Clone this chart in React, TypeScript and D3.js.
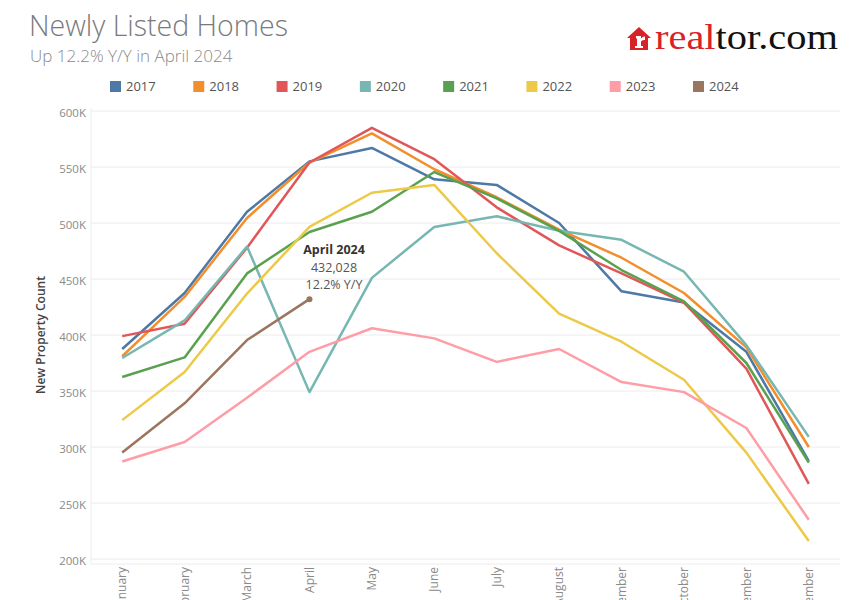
import React from 'react';
import * as d3 from 'd3';

const months = [
  'January', 'February', 'March', 'April', 'May', 'June',
  'July', 'August', 'September', 'October', 'November', 'December',
];

const years = ['2017', '2018', '2019', '2020', '2021', '2022', '2023', '2024'];

const colors = ['#4e79a7', '#f28e2b', '#e15759', '#76b7b2', '#59a14f', '#edc948', '#ff9da7', '#9c755f'];

// monthly new listings, in thousands
const listings2017 = [387.5, 437.5, 510, 555, 567, 539, 534, 500, 439, 429, 385, 287.5];
const listings2018 = [381, 434, 504.5, 554, 580, 548, 523, 494, 469, 437.5, 389, 300];
const listings2019 = [399, 410, 478, 554, 585, 557, 514, 480, 455, 429, 370, 267];
const listings2020 = [379.5, 413, 479, 349, 451, 496.5, 506, 493, 485, 456.5, 391, 309];
const listings2021 = [362.5, 380, 455, 492, 510, 545.5, 522, 493, 458, 430, 375, 286];
const listings2022 = [324, 367, 437, 496.5, 527, 534, 473, 419, 394, 360, 295, 216];
const listings2023 = [287, 304.5, 344, 385, 406, 397, 376, 387.5, 358, 349, 317, 235];
const listings2024 = [295, 339, 395.5, 432.028];

const series = [listings2017, listings2018, listings2019, listings2020, listings2021, listings2022, listings2023, listings2024];

const yTicks = [200, 250, 300, 350, 400, 450, 500, 550, 600];

const W = 849;
const H = 600;
const font = '"Open Sans", "Noto Sans", sans-serif';

export default function App() {
  const x = d3.scaleBand<string>().domain(months).range([91, 840]);
  const y = d3.scaleLinear().domain([200, 600]).range([559, 111]);
  const cx = (i: number) => (x(months[i]) as number) + x.bandwidth() / 2;

  const line = d3
    .line<number>()
    .x((_, i) => cx(i))
    .y(d => y(d));

  const legendX = d3.scalePoint<string>().domain(years).range([110, 693]);

  const last2024 = listings2024.length - 1;
  const dotX = cx(last2024);
  const dotY = y(listings2024[last2024]);

  return (
    <svg width={W} height={H} style={{ position: 'absolute', left: 0, top: 0, background: '#fff' }}>
      {/* title block */}
      <text x={29} y={36} fontFamily={font} fontWeight={300} fontSize={28.5} fill="#7a7a7a">
        Newly Listed Homes
      </text>
      <text x={30} y={62} fontFamily={font} fontWeight={300} fontSize={17} fill="#8a8a8a">
        Up 12.2% Y/Y in April 2024
      </text>

      {/* realtor.com mark */}
      <g>
        <path d="M627,38 L639,27 L651,38 L648,38 L648,50 L630,50 L630,38 Z" fill="#d92228" />
        <path d="M636,36 L641,36 L641,38.5 Q643,36 645,36.5 L645,40 Q642,39.5 641,41.5 L641,46 L643,46 L643,48 L635,48 L635,46 L637,46 L637,38.5 L636,38.5 Z" fill="#fff" />
        <text
          x={655}
          y={49}
          fontFamily='"Liberation Serif", "DejaVu Serif", serif'
          fontSize={35}
          textLength={183}
          lengthAdjust="spacingAndGlyphs"
        >
          <tspan fill="#d92228">real</tspan>
          <tspan fill="#111">tor.com</tspan>
        </text>
      </g>

      {/* legend */}
      {years.map((yr, i) => (
        <g key={yr} transform={`translate(${legendX(yr)},81)`}>
          <rect x={0} y={0} width={11} height={11} fill={colors[i]} />
          <text x={16} y={10} fontFamily={font} fontSize={13} fill="#555">
            {yr}
          </text>
        </g>
      ))}

      {/* grid */}
      {yTicks.map(t => (
        <g key={t}>
          <line x1={91} x2={840} y1={y(t)} y2={y(t)} stroke="#ececec" strokeWidth={1} />
          <text x={86} y={y(t) + 2} dy="0.35em" textAnchor="end" fontFamily={font} fontSize={11.5} fill="#8a8a8a">
            {`${t}K`}
          </text>
        </g>
      ))}
      <line x1={91} x2={91} y1={108} y2={564} stroke="#ececec" />
      <line x1={91} x2={840} y1={564} y2={564} stroke="#ececec" />

      <text
        transform="translate(45,335) rotate(-90)"
        textAnchor="middle"
        fontFamily={font}
        fontSize={12}
        fontWeight={600}
        fill="#444"
      >
        New Property Count
      </text>

      {/* month labels */}
      {months.map((m, i) => (
        <text
          key={m}
          transform={`translate(${cx(i)},567) rotate(-90)`}
          textAnchor="end"
          dy="0.35em"
          fontFamily={font}
          fontSize={12}
          fill="#8a8a8a"
        >
          {m}
        </text>
      ))}

      {/* lines */}
      {series.map((s, i) => (
        <path
          key={years[i]}
          d={line(s) as string}
          fill="none"
          stroke={colors[i]}
          strokeWidth={2.5}
          strokeLinejoin="round"
        />
      ))}
      <circle cx={dotX} cy={dotY} r={3} fill={colors[7]} />

      {/* callout */}
      <g fontFamily={font} textAnchor="middle" fontSize={12.5}>
        <text x={334} y={254} fontWeight={700} fill="#333">April 2024</text>
        <text x={334} y={272} fill="#555">
          {d3.format(',')(Math.round(listings2024[last2024] * 1000))}
        </text>
        <text x={334} y={289} fill="#555">12.2% Y/Y</text>
      </g>
    </svg>
  );
}
